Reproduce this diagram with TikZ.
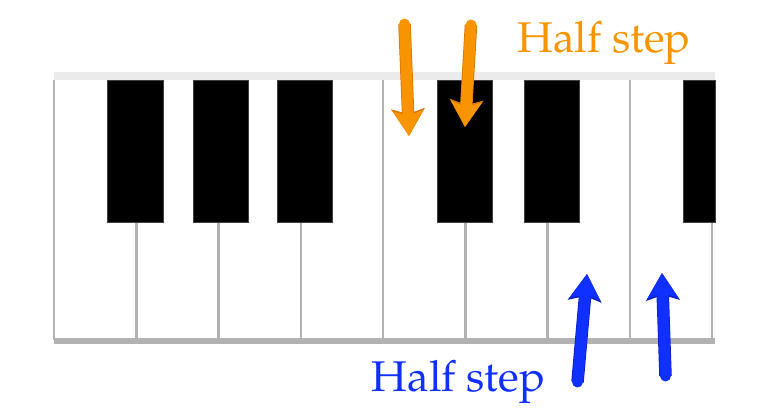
\documentclass[tikz,border=0pt]{standalone}
\usepackage[T1]{fontenc}
\usepackage{mathpazo}
\usetikzlibrary{arrows.meta}
\definecolor{halforange}{RGB}{247,148,0}
\definecolor{halforangedark}{RGB}{215,120,0}
\definecolor{halfblue}{RGB}{16,48,255}
\definecolor{halfbluedark}{RGB}{10,30,200}
\definecolor{keygray}{RGB}{178,178,178}
\definecolor{keytop}{RGB}{235,235,235}
\begin{document}
\begin{tikzpicture}[x=1pt,y=-1pt,
  keyline/.style={draw=keygray,line width=2.5pt},
  blackkey/.style={fill=black,draw=black!75,line width=0.6pt},
  halfarrow/.style={draw=#1,line width=11pt,line cap=round,-{Stealth[length=25pt,width=30pt,inset=5pt]},
    preaction={draw=#1dark,line width=12.5pt,-{Stealth[length=27pt,width=33pt,inset=5pt]}}},
  steptext/.style={text=#1,font=\fontsize{43}{50}\selectfont,anchor=base,inner sep=0pt}]
\useasboundingbox (0,0) rectangle (768,417);
% keyboard
\fill[keytop] (54,72) rectangle (715,80);
\foreach \i in {0,...,8}
  \draw[keyline] ({54+82.25*\i},80) -- ({54+82.25*\i},340);
\fill[keygray] (54,338) rectangle (715,344);
\foreach \l/\r in {107/163, 193/248, 277/332, 437/492, 524/579, 683/715}
  \filldraw[blackkey] (\l,80) rectangle (\r,222);
% arrows
\coordinate (down1) at (404.5,24);
\coordinate (down1tip) at (409,136);
\coordinate (down2) at (471,25);
\coordinate (down2tip) at (465,127);
\coordinate (up1) at (577.5,382);
\coordinate (up1tip) at (587,274);
\coordinate (up2) at (665.5,376);
\coordinate (up2tip) at (662,273);
\draw[halfarrow=halforange] (down1) -- (down1tip);
\draw[halfarrow=halforange] (down2) -- (down2tip);
\draw[halfarrow=halfblue] (up1) -- (up1tip);
\draw[halfarrow=halfblue] (up2) -- (up2tip);
\node[steptext=halforange] (toplabel) at (604,52.7) {Half step};
\node[steptext=halfblue] (bottomlabel) at (458.5,391.7) {Half step};
\end{tikzpicture}
\end{document}
